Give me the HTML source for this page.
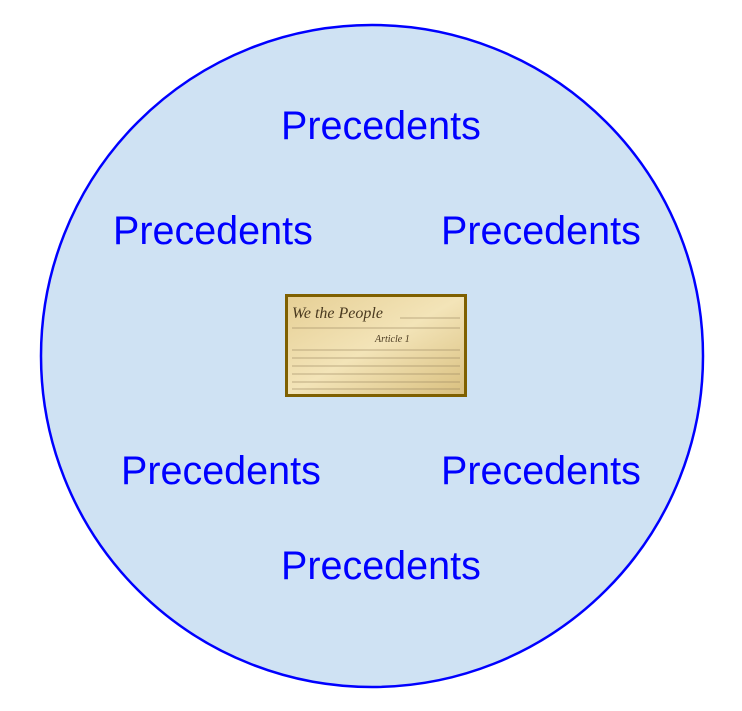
<!DOCTYPE html>
<html><head><style>body{margin:0;background:#fff}svg{display:block}</style></head><body>
<svg width="742" height="711" xmlns="http://www.w3.org/2000/svg">
<defs>
<linearGradient id="g" x1="0" y1="0" x2="1" y2="1">
<stop offset="0" stop-color="#e6cf95"/><stop offset="0.5" stop-color="#f3e4b8"/><stop offset="1" stop-color="#d9bf7e"/>
</linearGradient>
</defs>
<ellipse cx="372" cy="356" rx="331" ry="331" fill="#cfe2f3" stroke="#0000ff" stroke-width="2.5"/>
<g font-family="Liberation Sans, sans-serif" font-size="39.5" fill="#0000ff">
<text x="281" y="139">Precedents</text>
<text x="113" y="244">Precedents</text>
<text x="441" y="244">Precedents</text>
<text x="121" y="484">Precedents</text>
<text x="441" y="484">Precedents</text>
<text x="281" y="579">Precedents</text>
</g>
<rect x="286.5" y="295.5" width="179" height="100" fill="url(#g)" stroke="#7f6000" stroke-width="3"/>
<text x="292" y="318" font-family="Liberation Serif, serif" font-style="italic" font-size="16" fill="#4a3a20">We the People</text>
<text x="375" y="342" font-family="Liberation Serif, serif" font-style="italic" font-size="10" fill="#4a3a20">Article 1</text>
<g stroke="#9a8660" stroke-width="1" opacity="0.6">
<line x1="292" y1="350" x2="460" y2="350"/><line x1="292" y1="358" x2="460" y2="358"/>
<line x1="292" y1="366" x2="460" y2="366"/><line x1="292" y1="374" x2="460" y2="374"/>
<line x1="292" y1="382" x2="460" y2="382"/><line x1="292" y1="389" x2="460" y2="389"/>
<line x1="400" y1="318" x2="460" y2="318"/><line x1="292" y1="328" x2="460" y2="328"/>
</g>
</svg>
</body></html>
